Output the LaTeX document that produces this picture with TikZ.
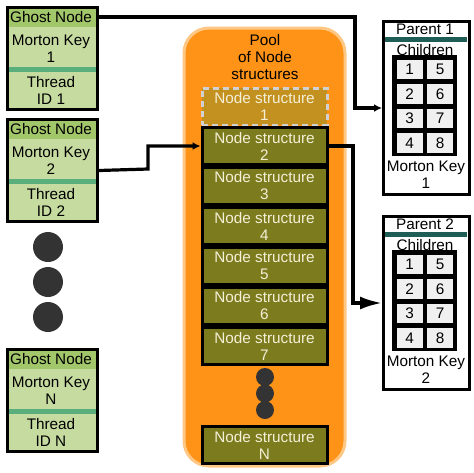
\documentclass[tikz,border=0pt]{standalone}
\usepackage{fontspec}
\setmainfont{Liberation Sans}
\usetikzlibrary{arrows.meta}
\definecolor{ghbody}{HTML}{C6DBA0}
\definecolor{ghhead}{HTML}{A2C66A}
\definecolor{ghstripe}{HTML}{5AAE7C}
\definecolor{poolor}{HTML}{FF9318}
\definecolor{poolbd}{HTML}{FFC784}
\definecolor{nsfill}{HTML}{7C7B1E}
\definecolor{nsonefill}{HTML}{C3911F}
\definecolor{nstext}{HTML}{F4F0D8}
\definecolor{parstripe}{HTML}{1F5E56}
\definecolor{cellgray}{HTML}{F0F0F0}
\definecolor{dotgray}{HTML}{333333}
\tikzset{
  txt/.style={inner sep=0, align=center, font=\fontsize{15.3}{17}\selectfont},
  gbox/.style={draw, line width=3, minimum width=90, minimum height=102, inner sep=0, anchor=north west},
  nsbox/.style={draw, line width=3, fill=nsfill, text=nstext, minimum width=125, minimum height=37, inner sep=0, align=center, font=\fontsize{15.3}{17}\selectfont},
  nsone/.style={nsbox, fill=nsonefill, draw=black!18, dashed, dash pattern=on 6pt off 4pt},
  pbox/.style={draw, line width=3, minimum width=86, minimum height=173, inner sep=0, anchor=north west},
  conn/.style={line width=3.2},
  smallarrow/.style={conn, -{Latex[length=8,width=8]}},
  bigarrow/.style={conn, -{Latex[length=22,width=13]}},
  blob/.style={fill=dotgray}
}
\newcommand\ghostnode[4]{%
  \fill[ghbody] (6,#2) rectangle (96,{#2+102});
  \fill[ghhead] (6,#2) rectangle (96,{#2+21});
  \fill[ghstripe] (6,{#2+61}) rectangle (96,{#2+66});
  \node[txt] (#1t) at (51,{#2+11}) {Ghost Node};
  \node[txt] (#1k) at (51,{#2+43}) {Morton Key\\#3};
  \node[txt] (#1i) at (51,{#2+84}) {Thread\\ID #4};
  \node[gbox] (#1) at (6,#2) {};
}
\newcommand\parentnode[3]{%
  \fill[parstripe] (383,{#2+17}) rectangle (467,{#2+21.5});
  \node[txt] (#1h) at (425,{#2+9.5}) {Parent #3};
  \node[txt] (#1c) at (425,{#2+30}) {Children};
  \fill[black] (392,{#2+35}) rectangle (457,{#2+136});
  \foreach \r/\a/\b in {0/1/5,1/2/6,2/3/7,3/4/8}{
    \fill[cellgray] (396.5,{#2+39.5+24.5*\r}) rectangle (422.5,{#2+59+24.5*\r});
    \fill[cellgray] (427,{#2+39.5+24.5*\r}) rectangle (452.5,{#2+59+24.5*\r});
    \node[txt] at (409.5,{#2+49.5+24.5*\r}) {\a};
    \node[txt] at (440,{#2+49.5+24.5*\r}) {\b};
  }
  \node[txt] (#1k) at (426,{#2+155}) {Morton Key\\#3};
  \node[pbox] (#1) at (382,#2) {};
}
\begin{document}
\begin{tikzpicture}[x=1pt,y=-1pt]
\useasboundingbox (0,0) rectangle (474,472);
% pool
\draw[fill=poolor, draw=poolbd, line width=3, rounded corners=25] (184,28) rectangle (345,466);
\node[txt] (pool) at (265,57) {Pool\\of Node\\structures};
% node structures
\node[nsone] (n1) at (264.5,106.5) {Node structure\\1};
\node[nsbox] (n2) at (264.5,146) {Node structure\\2};
\node[nsbox] (n3) at (264.5,186) {Node structure\\3};
\node[nsbox] (n4) at (264.5,226) {Node structure\\4};
\node[nsbox] (n5) at (264.5,266) {Node structure\\5};
\node[nsbox] (n6) at (264.5,306) {Node structure\\6};
\node[nsbox] (n7) at (264.5,346) {Node structure\\7};
\node[nsbox] (nN) at (264.5,445) {Node structure\\N};
\fill[blob] (265,377) circle (9);
\fill[blob] (265,393.5) circle (9);
\fill[blob] (265,410) circle (9);
% ghost nodes
\ghostnode{g1}{6}{1}{1}
\ghostnode{g2}{118}{2}{2}
\ghostnode{gN}{348}{N}{N}
\fill[blob] (48,247) circle (15);
\fill[blob] (48,282) circle (15);
\fill[blob] (48,317) circle (15);
% parents
\parentnode{p1}{20}{1}
\parentnode{p2}{215}{2}
% connectors
\coordinate (g1h) at (97.5,17);
\coordinate (c1) at (355,17);
\draw[smallarrow] (g1h) -- (c1) |- (p1.west);
\coordinate (c2) at (148,169);
\draw[smallarrow] (g2.east) -- (c2) |- (n2.west);
\coordinate (c3) at (353,146);
\draw[bigarrow] (n2.east) -- (c3) |- (p2.west);
\end{tikzpicture}
\end{document}
